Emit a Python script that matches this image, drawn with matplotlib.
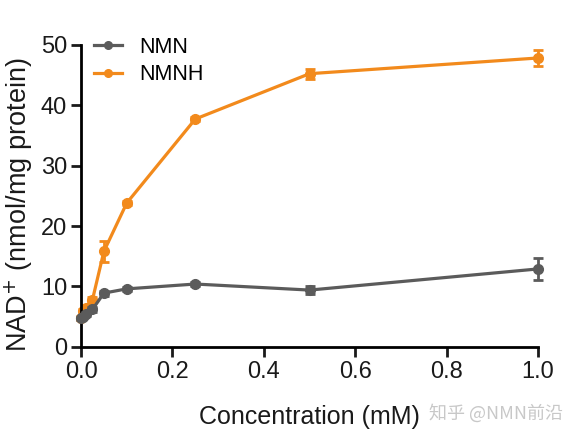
import matplotlib.pyplot as plt
from matplotlib.lines import Line2D
import numpy as np

plt.rcParams['font.family'] = ['Liberation Sans', 'DejaVu Sans']

# concentrations (mM)
conc = np.array([0, 0.005, 0.01, 0.025, 0.05, 0.1, 0.25, 0.5, 1.0])

# NAD+ levels (nmol/mg protein)
nmn = np.array([4.7, 5.0, 5.4, 6.2, 8.9, 9.6, 10.4, 9.4, 12.9])
nmn_err = np.array([0.3, 0.3, 0.3, 0.4, 0.4, 0.3, 0.3, 0.7, 1.8])
nmnh = np.array([4.8, 6.0, 6.5, 7.8, 15.8, 23.8, 37.7, 45.2, 47.8])
nmnh_err = np.array([0.3, 0.3, 0.4, 0.4, 1.7, 0.4, 0.4, 0.8, 1.3])

gray = '#5b5b5b'
orange = '#f28a1c'

fig = plt.figure(figsize=(5.83, 4.38), dpi=100)
ax = fig.add_axes([0.139, 0.208, 0.784, 0.69])

ax.errorbar(conc, nmn, yerr=nmn_err, color=gray, marker='o', markersize=7,
            linewidth=2.3, capsize=3.3, capthick=2, elinewidth=2,
            clip_on=False, zorder=3)
ax.errorbar(conc, nmnh, yerr=nmnh_err, color=orange, marker='o', markersize=7,
            linewidth=2.3, capsize=3.3, capthick=2, elinewidth=2,
            clip_on=False, zorder=2)

ax.set_xlim(0, 1.0)
ax.set_ylim(0, 50)
ax.set_xticks(np.arange(0, 1.01, 0.2))
ax.set_yticks(np.arange(0, 51, 10))
ax.set_xticklabels(['0.0', '0.2', '0.4', '0.6', '0.8', '1.0'])

for s in ['top', 'right']:
    ax.spines[s].set_visible(False)
for s in ['left', 'bottom']:
    ax.spines[s].set_linewidth(2)
ax.tick_params(width=2, length=7, labelsize=17, pad=3, colors='#1a1a1a')

ax.set_xlabel('Concentration (mM)', fontsize=18, labelpad=16, color='#1a1a1a')
ax.set_ylabel('NAD$^{+}$ (nmol/mg protein)', fontsize=19.5, color='#1a1a1a')
ax.yaxis.set_label_coords(-0.1, 0.47)

handles = [Line2D([], [], color=gray, marker='o', markersize=5.5, linewidth=2.3),
           Line2D([], [], color=orange, marker='o', markersize=5.5, linewidth=2.3)]
ax.legend(handles, ['NMN', 'NMNH'], loc='upper left',
          bbox_to_anchor=(-0.015, 1.09), frameon=False, fontsize=15.5,
          handlelength=1.3, handletextpad=0.8, labelspacing=0.3)

# watermark
fig.text(0.735, 0.045, '知乎 @NMN前沿', fontsize=13, color='#c8c8c8',
         family=['Noto Sans CJK SC', 'DejaVu Sans'])

fig.savefig('out.png', dpi=100)
